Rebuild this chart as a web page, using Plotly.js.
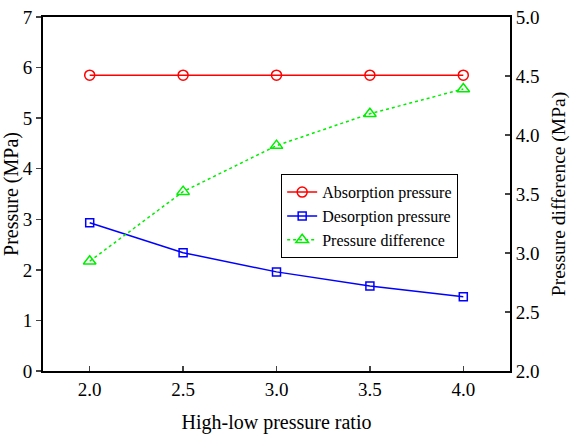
<!DOCTYPE html>
<html><head><meta charset="utf-8">
<script src="https://cdn.plot.ly/plotly-3.0.1.min.js"></script>
<style>html,body{margin:0;padding:0;background:#fff}</style>
</head><body>
<div id="chart" style="width:576px;height:437px"></div>
<script>
const ratio = [2.0, 2.5, 3.0, 3.5, 4.0];
const ratioLabels = ['2.0', '2.5', '3.0', '3.5', '4.0'];
const absorption = [5.85, 5.85, 5.85, 5.85, 5.85];
const desorption = [2.93, 2.34, 1.96, 1.68, 1.47];
const difference = [2.93, 3.52, 3.91, 4.18, 4.39];

const FAM = 'Liberation Serif, Times New Roman, serif';
const f = (s) => ({family: FAM, size: s, color: '#000'});
const traces = [
  {x: ratio, y: absorption, name: 'Absorption pressure', mode: 'lines+markers',
   line: {color: '#ff0000', width: 1.5},
   marker: {symbol: 'circle-open', size: 10, color: '#ff0000', line: {width: 1.5}}},
  {x: ratio, y: desorption, name: 'Desorption pressure', mode: 'lines+markers',
   line: {color: '#0000ff', width: 1.5},
   marker: {symbol: 'square-open', size: 8, color: '#0000ff', line: {width: 1.5}}},
  {x: ratio, y: difference, name: 'Pressure difference', mode: 'lines+markers', yaxis: 'y2',
   line: {color: '#00ee00', width: 1.5, dash: 'dot'},
   marker: {symbol: 'triangle-up-open', size: 11, color: '#00ee00', line: {width: 1.5}}}
];
const layout = {
  width: 576, height: 437,
  margin: {l: 43, r: 66, t: 17, b: 66},
  paper_bgcolor: '#fff', plot_bgcolor: '#fff',
  font: f(19),
  showlegend: true,
  legend: {x: 0.51, y: 0.556, xanchor: 'left', yanchor: 'top', bordercolor: '#000', borderwidth: 1,
           bgcolor: '#fff', font: f(16), tracegroupgap: 0},
  xaxis: {range: [1.75, 4.25], tickvals: ratio, ticktext: ratioLabels, tickfont: f(19),
          ticks: 'inside', ticklen: 5, tickwidth: 1.5, showgrid: false, zeroline: false,
          showline: true, linecolor: '#000', linewidth: 2, mirror: true,
          title: {text: 'High-low pressure ratio', font: f(20), standoff: 16}},
  yaxis: {range: [0, 7], dtick: 1, tickfont: f(19), ticks: 'outside', ticklen: 5, tickwidth: 1.5,
          showgrid: false, zeroline: false, showline: true, linecolor: '#000', linewidth: 2,
          title: {text: 'Pressure (MPa)', font: f(20), standoff: 8}},
  yaxis2: {range: [2, 5], dtick: 0.5, tickformat: '.1f', tickfont: f(19), overlaying: 'y', side: 'right',
           ticks: 'inside', ticklen: 5, tickwidth: 1.5, showgrid: false, zeroline: false,
           showline: true, linecolor: '#000', linewidth: 2,
           title: {text: 'Pressure difference (MPa)', font: f(19.5), standoff: 13}}
};
Plotly.newPlot('chart', traces, layout, {displayModeBar: false, staticPlot: true});
</script>
</body></html>
